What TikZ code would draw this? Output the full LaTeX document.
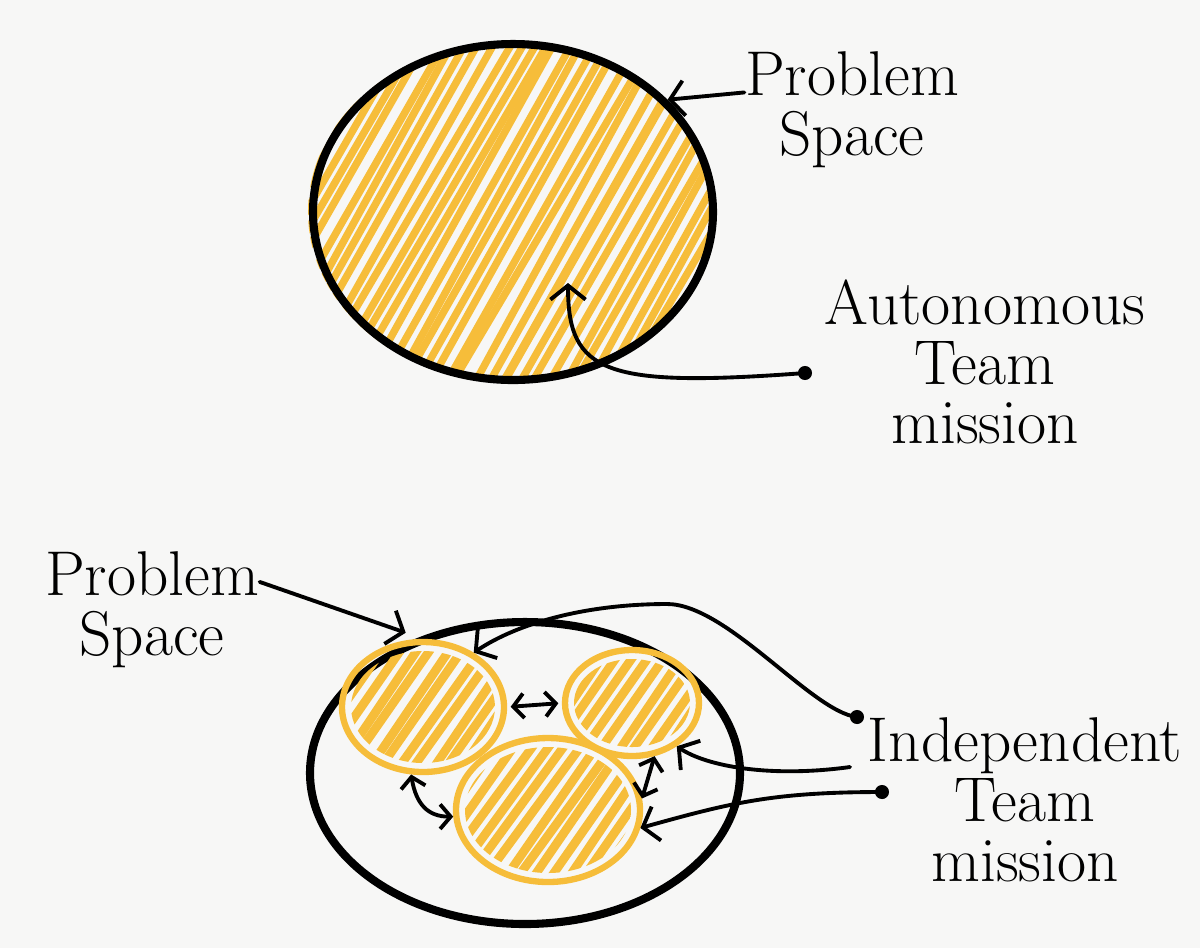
\documentclass[tikz,border=0pt]{standalone}
\usetikzlibrary{shapes.geometric,arrows.meta,positioning}
\definecolor{scribble}{RGB}{246,189,58}
\definecolor{paper}{RGB}{247,247,246}
\tikzset{
  rim/.style={draw, ellipse, line width=2.3pt, inner sep=0pt},
  ring/.style={draw=scribble, ellipse, line width=1.8pt, inner sep=0pt},
  hatch/.style={scribble, line width=2.1pt, line cap=round},
  ink/.style={line width=1.1pt, line cap=round, line join=round},
  tip/.style={-{Straight Barb[length=4pt,width=10pt]}},
  twotip/.style={{Straight Barb[length=3pt,width=7pt]}-{Straight Barb[length=3pt,width=7pt]}},
  note/.style={font=\fontsize{18}{17}\selectfont, align=center, inner sep=0pt},
}
\begin{document}
\begin{tikzpicture}[x=0.1mm, y=-0.1mm]
  \fill[paper] (0,0) rectangle (1200,948);
  \pgfmathsetseed{11}

  % one team, one mission
  \begin{scope}
    \clip (510,212) ellipse [x radius=202, y radius=170];
    \foreach \t in {-340,-327,...,340}
      \draw[hatch] (510+\t-105+rnd*12, 400) -- (510+\t+105+rnd*12, 30);
  \end{scope}
  \node[rim, minimum width=40mm, minimum height=33.6mm] (space) at (513,212) {};
  \node[note] (topnote) at (852,110) {Problem\\Space};
  \node[note] (autonote) at (985,362) {Autonomous\\Team\\mission};
  \coordinate (autodot) at (805,373);
  \coordinate (mission) at (568,283);
  \draw[ink, tip] ([yshift=5pt]topnote.west) -- (space.36);
  \fill (autodot) circle (2pt);
  \draw[ink, tip] (autodot) .. controls +(-200,15) and +(0,90) .. (mission);

  % three teams, three missions
  \node[rim, minimum width=43mm, minimum height=30.2mm] (whole) at (525,773) {};
  \foreach \cx/\cy/\rx/\ry/\nm in {423/707/81/65/teamA, 632/703/67/53/teamB, 548/810/92/72/teamC} {
    \begin{scope}
      \clip (\cx,\cy) ellipse [x radius=\rx-9, y radius=\ry-9];
      \foreach \t in {-130,-114,...,130}
        \draw[hatch, line width=2.5pt] (\cx+\t-55+rnd*8, \cy+80) -- (\cx+\t+55+rnd*8, \cy-80);
    \end{scope}
    \node[ring, minimum width=0.2mm*\rx, minimum height=0.2mm*\ry] (\nm) at (\cx,\cy) {};
  }
  \node[note] (leftnote) at (152,610) {Problem\\Space};
  \node[note] (indnote) at (1025,800) {Independent\\Team\\mission};
  \coordinate (dotA) at (857,717);
  \coordinate (dotB) at (850,767);
  \coordinate (dotC) at (882,792);
  \fill (dotA) circle (2pt);
  \fill (dotC) circle (2pt);
  \draw[ink, tip, shorten >=4pt] ([yshift=8pt]leftnote.east) -- (whole.128);
  \draw[ink, tip] (dotA) .. controls +(-45,-5) and +(60,0) .. (667,604)
    .. controls +(-80,0) and +(45,-30) .. (teamA.47);
  \draw[ink, tip] (dotB) .. controls +(-80,11) and +(30,20) .. (teamB.-44);
  \draw[ink, tip] (dotC) .. controls +(-110,0) and +(90,-25) .. (teamC.-11);
  \draw[ink, twotip, shorten <=1pt, shorten >=1pt] (teamA.east) -- (teamB.west);
  \draw[ink, twotip] (teamA.-100) .. controls +(5,30) and +(-25,0) .. (teamC.184);
  \draw[ink, twotip] (teamB.-67) -- (teamC.7);
\end{tikzpicture}
\end{document}
